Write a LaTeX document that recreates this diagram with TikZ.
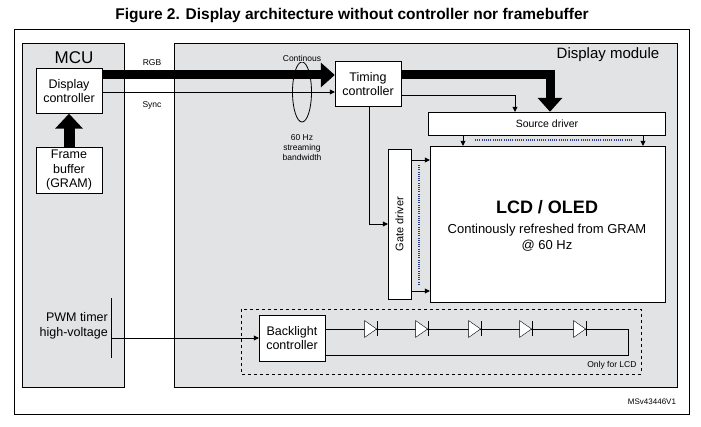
\documentclass[tikz,border=0pt]{standalone}
\usepackage{fontspec}
\setmainfont{Liberation Sans}
\usetikzlibrary{arrows.meta,shapes.geometric}
\definecolor{panel}{HTML}{E1E3E5}
\definecolor{dotblue}{HTML}{2F3E8A}
\begin{document}
\begin{tikzpicture}[x=1pt,y=-1pt,
  box/.style={draw,fill=white,thin,align=center,inner sep=1pt,font=\fontsize{12.5}{14.5}\selectfont},
  panel/.style={draw,fill=panel,thin},
  thin arrow/.style={-{Triangle[length=5pt,width=5pt]},line width=0.5pt},
  thick arrow/.style={-{Triangle[length=14pt,width=24pt]},line width=9pt},
  small/.style={font=\fontsize{8.5}{10}\selectfont,align=center},
  dots/.style={dotblue,dash pattern=on 1pt off 1.2pt,line width=1.2pt},
  diode/.style={isosceles triangle,draw,fill=white,minimum width=14pt,minimum height=12pt,inner sep=0pt,isosceles triangle apex angle=70}]
\useasboundingbox (0,0) rectangle (701,427);
\node[font=\bfseries\fontsize{15.5}{17}\selectfont] (title) at (352,16) {Figure 2. Display architecture without controller nor framebuffer};
\draw[thin] (14,29) rectangle (689,414);
\draw[panel] (22,43) rectangle (124,387);
\draw[panel] (174,43) rectangle (677,387);
\node[font=\fontsize{17}{19}\selectfont] (mcu) at (74,58) {MCU};
\node[font=\fontsize{15}{17}\selectfont] (dm) at (608,55) {Display module};
\node[box,minimum width=66pt,minimum height=45pt] (dc) at (69,91) {Display\\controller};
\node[box,minimum width=66pt,minimum height=46pt] (fb) at (69,170) {Frame\\buffer\\(GRAM)};
\draw[-{Triangle[length=15pt,width=27pt]},line width=11pt] (fb.north) -- (dc.south);
\node[box,minimum width=66pt,minimum height=45pt] (tc) at (368,84) {Timing\\controller};
\draw[thick arrow] (dc.east|-0,75) -- (tc.west|-0,75);
\draw[thin arrow] (dc.east|-0,92) -- (tc.west|-0,92);
\node[small] (rgb) at (152,63) {RGB};
\node[small] (sync) at (152,105) {Sync};
\node[draw,ellipse,minimum width=19pt,minimum height=60pt,inner sep=0pt,line width=0.8pt] (ell) at (302,92) {};
\node[small,fill=panel,inner sep=1pt] (cont) at (302,58) {Continous};
\node[small] (bw) at (302,148) {60 Hz\\streaming\\bandwidth};
\node[box,minimum width=237pt,minimum height=23pt] (sd) at (547,123.5) {\fontsize{10.5}{12}\selectfont Source driver};
\node[box,minimum width=235pt,minimum height=156pt] (lcd) at (547.5,224) {};
\node[font=\bfseries\fontsize{18}{20}\selectfont] (lcdt) at (547,207) {LCD / OLED};
\node[font=\fontsize{13}{16}\selectfont,align=center] (lcds) at (547,238) {Continously refreshed from GRAM\\@ 60 Hz};
\node[box,minimum width=23pt,minimum height=150pt] (gd) at (399.5,224) {};
\node[rotate=90,font=\fontsize{11}{12}\selectfont] (gdt) at (399.5,224) {Gate driver};
\coordinate (tr) at (550,75);
\draw[-{Triangle[length=14pt,width=24pt]},line width=9pt,line join=miter] (tc.east|-tr) -- (tr) -- (sd.north-|550,0);
\draw[thin arrow] (tc.east|-0,95) -- (515,95) -- (sd.north-|515,0);
\draw[thin arrow] (tc.south-|369,0) -- (369,224) -- (gd.west|-0,224);
\draw[thin arrow] (sd.south-|463,0) -- (lcd.north-|463,0);
\draw[thin arrow] (sd.south-|643,0) -- (lcd.north-|643,0);
\draw[dots] (475,140) -- (633,140);
\draw[thin arrow] (gd.east|-0,160) -- (lcd.west|-0,160);
\draw[thin arrow] (gd.east|-0,291) -- (lcd.west|-0,291);
\draw[dots] (419,165) -- (419,284);
\node[font=\fontsize{12.5}{15.5}\selectfont,align=right,anchor=east,inner sep=1pt] (pwm) at (109,326) {PWM timer\\high-voltage};
\draw[line width=0.8pt] (111,298) -- (111,358);
\draw[dashed,thin] (241,309) rectangle (641,374);
\node[small,anchor=south east] (only) at (640,373) {Only for LCD};
\node[box,minimum width=66pt,minimum height=46pt] (bl) at (292,338) {Backlight\\controller};
\draw[thin arrow] (111,338) -- (bl.west);
\coordinate (le) at (628,329);
\draw[thin] (bl.east|-le) -- (le) -- (628,355) -- (bl.east|-0,355);
\foreach \x/\n in {369/d1,420/d2,473/d3,524/d4,578/d5}{
  \node[diode] (\n) at (\x,329) {};
  \draw[thin] (\n.apex)++(0,-7.5) -- ++(0,15);
}
\node[font=\fontsize{8}{9}\selectfont] (ms) at (652,402) {MSv43446V1};
\end{tikzpicture}
\end{document}
